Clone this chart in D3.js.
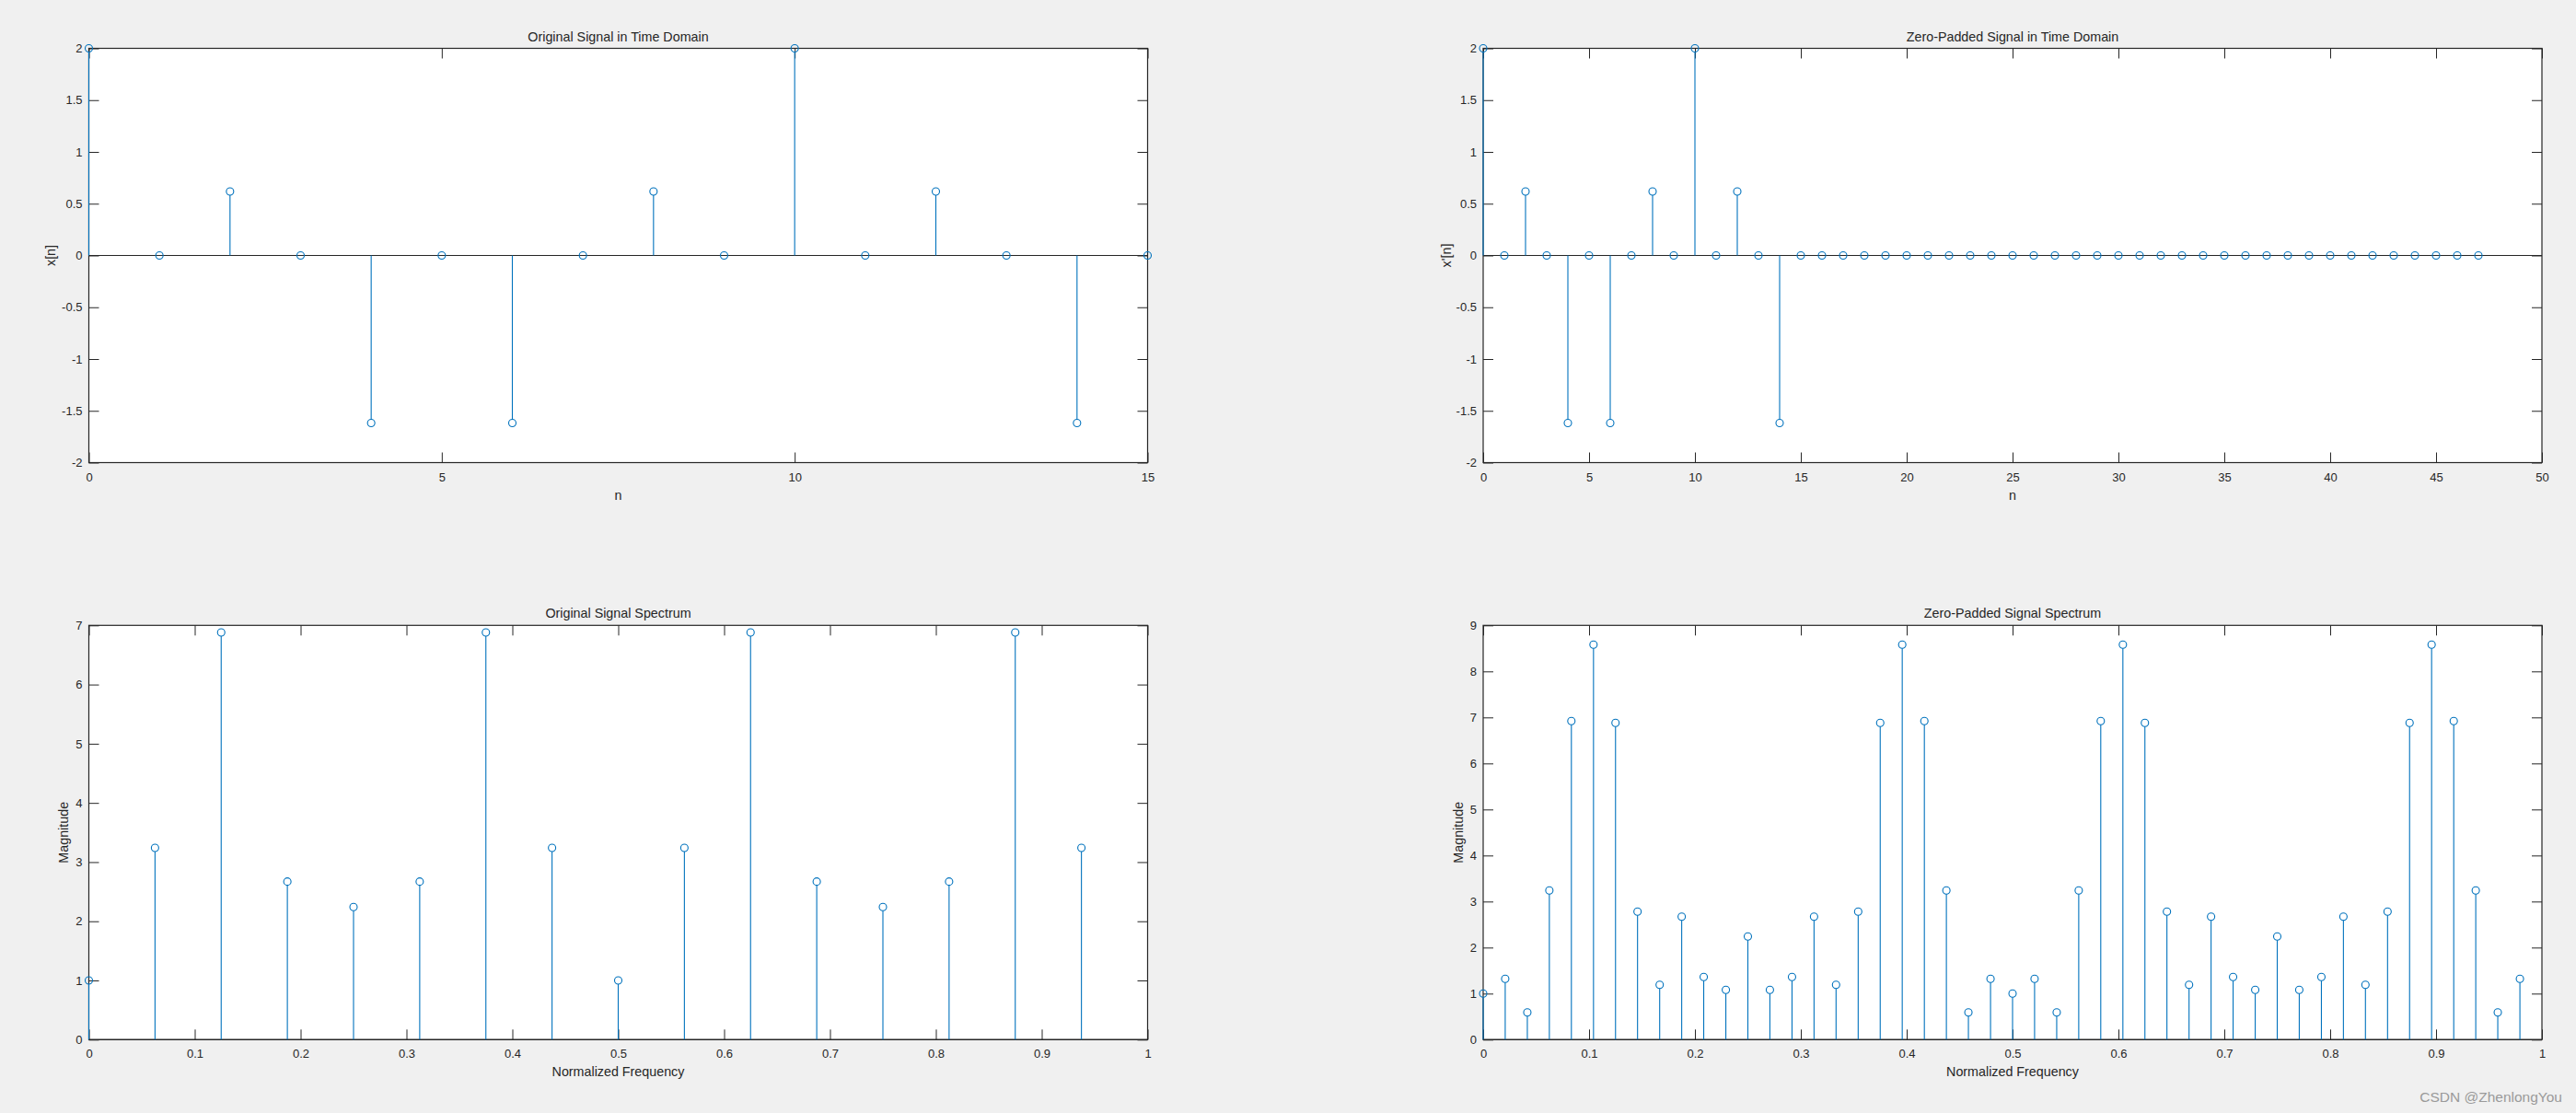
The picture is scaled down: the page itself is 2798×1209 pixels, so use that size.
<!DOCTYPE html>
<html>
<head>
<meta charset="utf-8">
<script src="https://cdn.jsdelivr.net/npm/d3@7"></script>
<style>
  html, body { margin: 0; padding: 0; background: #f0f0f0; }
  svg { display: block; }
  text { font-family: "Liberation Sans", Arial, Helvetica, sans-serif; fill: #262626; }
</style>
</head>
<body>
<svg id="fig" width="2798" height="1209"></svg>
<script>
// ---------------- DATA ----------------
const origN = [0, 1, 2, 3, 4, 5, 6, 7, 8, 9, 10, 11, 12, 13, 14, 15];
const origX = [2, 0, 0.618, 0, -1.618, 0, -1.618, 0, 0.618, 0, 2, 0, 0.618, 0, -1.618, 0];

const padN = [0, 1, 2, 3, 4, 5, 6, 7, 8, 9, 10, 11, 12, 13, 14, 15,
  16, 17, 18, 19, 20, 21, 22, 23, 24, 25, 26, 27, 28, 29, 30, 31,
  32, 33, 34, 35, 36, 37, 38, 39, 40, 41, 42, 43, 44, 45, 46, 47];
const padX = [2, 0, 0.618, 0, -1.618, 0, -1.618, 0, 0.618, 0, 2, 0, 0.618, 0, -1.618, 0,
  0, 0, 0, 0, 0, 0, 0, 0, 0, 0, 0, 0, 0, 0, 0, 0,
  0, 0, 0, 0, 0, 0, 0, 0, 0, 0, 0, 0, 0, 0, 0, 0];

const origFreq = [0, 0.0625, 0.125, 0.1875, 0.25, 0.3125, 0.375, 0.4375,
  0.5, 0.5625, 0.625, 0.6875, 0.75, 0.8125, 0.875, 0.9375];
const origMag = [1.00, 3.24, 6.88, 2.67, 2.24, 2.67, 6.88, 3.24,
  1.00, 3.24, 6.88, 2.67, 2.24, 2.67, 6.88, 3.24];

const padFreq = [0, 0.0208, 0.0417, 0.0625, 0.0833, 0.1042, 0.125, 0.1458,
  0.1667, 0.1875, 0.2083, 0.2292, 0.25, 0.2708, 0.2917, 0.3125,
  0.3333, 0.3542, 0.375, 0.3958, 0.4167, 0.4375, 0.4583, 0.4792,
  0.5, 0.5208, 0.5417, 0.5625, 0.5833, 0.6042, 0.625, 0.6458,
  0.6667, 0.6875, 0.7083, 0.7292, 0.75, 0.7708, 0.7917, 0.8125,
  0.8333, 0.8542, 0.875, 0.8958, 0.9167, 0.9375, 0.9583, 0.9792];
const padMag = [1.00, 1.32, 0.59, 3.24, 6.92, 8.58, 6.88, 2.78,
  1.19, 2.67, 1.36, 1.08, 2.24, 1.08, 1.36, 2.67,
  1.19, 2.78, 6.88, 8.58, 6.92, 3.24, 0.59, 1.32,
  1.00, 1.32, 0.59, 3.24, 6.92, 8.58, 6.88, 2.78,
  1.19, 2.67, 1.36, 1.08, 2.24, 1.08, 1.36, 2.67,
  1.19, 2.78, 6.88, 8.58, 6.92, 3.24, 0.59, 1.32];

// tick values & labels
const timeYTicks = [-2, -1.5, -1, -0.5, 0, 0.5, 1, 1.5, 2];
const timeYLabels = ["-2", "-1.5", "-1", "-0.5", "0", "0.5", "1", "1.5", "2"];
const origXTicks = [0, 5, 10, 15];
const origXLabels = ["0", "5", "10", "15"];
const padXTicks = [0, 5, 10, 15, 20, 25, 30, 35, 40, 45, 50];
const padXLabels = ["0", "5", "10", "15", "20", "25", "30", "35", "40", "45", "50"];
const freqTicks = [0, 0.1, 0.2, 0.3, 0.4, 0.5, 0.6, 0.7, 0.8, 0.9, 1];
const freqLabels = ["0", "0.1", "0.2", "0.3", "0.4", "0.5", "0.6", "0.7", "0.8", "0.9", "1"];
const magYTicks7 = [0, 1, 2, 3, 4, 5, 6, 7];
const magYLabels7 = ["0", "1", "2", "3", "4", "5", "6", "7"];
const magYTicks9 = [0, 1, 2, 3, 4, 5, 6, 7, 8, 9];
const magYLabels9 = ["0", "1", "2", "3", "4", "5", "6", "7", "8", "9"];

const titles = ["Original Signal in Time Domain", "Zero-Padded Signal in Time Domain",
  "Original Signal Spectrum", "Zero-Padded Signal Spectrum"];
const xLabels = ["n", "n", "Normalized Frequency", "Normalized Frequency"];
const yLabels = ["x[n]", "x'[n]", "Magnitude", "Magnitude"];

// ---------------- DRAW ----------------
const STEM = "#0072BD";
const AX = "#262626";
const svg = d3.select("#fig");
svg.append("rect").attr("width", 2798).attr("height", 1209).attr("fill", "#f0f0f0");

function panel(o) {
  const x = d3.scaleLinear().domain(o.xDomain).range([o.left, o.right]);
  const y = d3.scaleLinear().domain(o.yDomain).range([o.bottom, o.top]);
  const g = svg.append("g");

  g.append("rect")
    .attr("x", o.left).attr("y", o.top)
    .attr("width", o.right - o.left).attr("height", o.bottom - o.top)
    .attr("fill", "#ffffff");

  const fmtX = (d) => o.xLabels[o.xTicks.indexOf(d)];
  const fmtY = (d) => o.yLabels[o.yTicks.indexOf(d)];

  const styleAxis = (sel, labels) => {
    sel.select(".domain").remove();
    sel.selectAll(".tick line").attr("stroke", AX).attr("stroke-width", 1);
    sel.selectAll(".tick text")
      .attr("fill", AX)
      .style("font-size", "13px")
      .style("font-family", '"Liberation Sans", Arial, sans-serif');
    if (!labels) sel.selectAll(".tick text").remove();
  };

  g.append("g").attr("transform", `translate(0,${o.bottom})`)
    .call(d3.axisBottom(x).tickValues(o.xTicks).tickFormat(fmtX).tickSize(-11).tickPadding(10.8))
    .call(s => styleAxis(s, true));
  g.append("g").attr("transform", `translate(0,${o.top})`)
    .call(d3.axisTop(x).tickValues(o.xTicks).tickFormat(() => "").tickSize(-11))
    .call(s => styleAxis(s, false));
  g.append("g").attr("transform", `translate(${o.left},0)`)
    .call(d3.axisLeft(y).tickValues(o.yTicks).tickFormat(fmtY).tickSize(-11).tickPadding(7))
    .call(s => styleAxis(s, true));
  g.append("g").attr("transform", `translate(${o.right},0)`)
    .call(d3.axisRight(y).tickValues(o.yTicks).tickFormat(() => "").tickSize(-11))
    .call(s => styleAxis(s, false));

  // box
  g.append("rect")
    .attr("x", o.left).attr("y", o.top)
    .attr("width", o.right - o.left).attr("height", o.bottom - o.top)
    .attr("fill", "none").attr("stroke", AX).attr("stroke-width", 1.2);

  // baseline at 0
  g.append("line")
    .attr("x1", o.left).attr("x2", o.right)
    .attr("y1", y(0)).attr("y2", y(0))
    .attr("stroke", AX).attr("stroke-width", 1.2);

  // stems
  const r = 4;
  const pts = o.xs.map((v, i) => ({ x: v, y: o.ys[i] }));
  g.append("g").selectAll("line").data(pts.filter(p => p.y !== 0)).join("line")
    .attr("x1", p => x(p.x)).attr("x2", p => x(p.x))
    .attr("y1", y(0))
    .attr("y2", p => y(p.y) + (p.y > 0 ? r : -r))
    .attr("stroke", STEM).attr("stroke-width", 1.1);

  // markers
  g.append("g").selectAll("circle").data(pts).join("circle")
    .attr("cx", p => x(p.x)).attr("cy", p => y(p.y)).attr("r", r)
    .attr("fill", "none").attr("stroke", STEM).attr("stroke-width", 1.1);

  // title
  g.append("text")
    .attr("x", (o.left + o.right) / 2).attr("y", o.top - 8)
    .attr("text-anchor", "middle").style("font-size", "14.3px")
    .text(o.title);
  // x label
  g.append("text")
    .attr("x", (o.left + o.right) / 2).attr("y", o.bottom + 40)
    .attr("text-anchor", "middle").style("font-size", "14.3px")
    .text(o.xLabel);
  // y label
  const cy = (o.top + o.bottom) / 2;
  const lx = o.left - o.yLabelOff;
  g.append("text")
    .attr("transform", `translate(${lx},${cy}) rotate(-90)`)
    .attr("text-anchor", "middle").style("font-size", "14.3px")
    .text(o.yLabel);
}

const L1 = 96.5, R1 = 1246.5, L2 = 1611, R2 = 2761;
const T1 = 52.5, B1 = 502.5, T2 = 679.3, B2 = 1129.3;

panel({ left: L1, right: R1, top: T1, bottom: B1, xDomain: [0, 15], yDomain: [-2, 2],
  xTicks: origXTicks, xLabels: origXLabels, yTicks: timeYTicks, yLabels: timeYLabels,
  xs: origN, ys: origX, title: titles[0], xLabel: xLabels[0], yLabel: yLabels[0], yLabelOff: 36.5 });
panel({ left: L2, right: R2, top: T1, bottom: B1, xDomain: [0, 50], yDomain: [-2, 2],
  xTicks: padXTicks, xLabels: padXLabels, yTicks: timeYTicks, yLabels: timeYLabels,
  xs: padN, ys: padX, title: titles[1], xLabel: xLabels[1], yLabel: yLabels[1], yLabelOff: 35.5 });
panel({ left: L1, right: R1, top: T2, bottom: B2, xDomain: [0, 1], yDomain: [0, 7],
  xTicks: freqTicks, xLabels: freqLabels, yTicks: magYTicks7, yLabels: magYLabels7,
  xs: origFreq, ys: origMag, title: titles[2], xLabel: xLabels[2], yLabel: yLabels[2], yLabelOff: 22.5 });
panel({ left: L2, right: R2, top: T2, bottom: B2, xDomain: [0, 1], yDomain: [0, 9],
  xTicks: freqTicks, xLabels: freqLabels, yTicks: magYTicks9, yLabels: magYLabels9,
  xs: padFreq, ys: padMag, title: titles[3], xLabel: xLabels[3], yLabel: yLabels[3], yLabelOff: 22 });

// watermark
svg.append("text")
  .attr("x", 2783).attr("y", 1197)
  .attr("text-anchor", "end")
  .style("font-size", "15.5px")
  .style("fill", "#9a9a9a")
  .text("CSDN @ZhenlongYou");
</script>
</body>
</html>
